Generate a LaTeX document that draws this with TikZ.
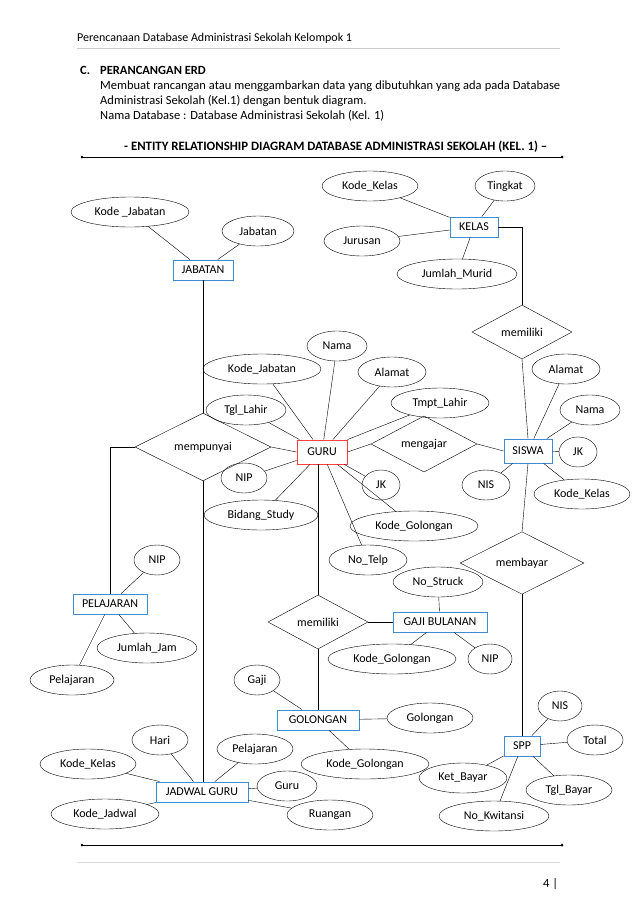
\documentclass[tikz,border=0pt]{standalone}
\usepackage{fontspec}
\setmainfont{Carlito}
\usetikzlibrary{shapes.geometric}
\begin{document}
\begin{tikzpicture}[x=1pt,y=-1pt,
  every node/.style={font=\fontsize{12}{14}\selectfont},
  ent/.style={draw=cyan!60!blue!80, line width=0.9pt, minimum height=20pt, inner sep=3pt},
  attr/.style={draw, ellipse, minimum height=30pt, inner sep=0pt},
  rel/.style={draw, diamond, inner sep=0pt},
  body/.style={anchor=west, inner sep=0pt, font=\fontsize{12.5}{14}\selectfont}]
\useasboundingbox (0,0) rectangle (638,902);
% header
\node[anchor=west, inner sep=0pt, font=\fontsize{12}{14}\selectfont] (hdr) at (77,38) {Perencanaan Database Administrasi Sekolah Kelompok 1};
\coordinate (h1) at (77,48); \coordinate (h2) at (560,48);
\draw[gray!40] (h1) -- (h2);
\node[body, font=\fontsize{12.5}{14}\selectfont\bfseries] (c) at (80,70) {C.};
\node[body, font=\fontsize{12.5}{14}\selectfont\bfseries] (ct) at (100,70) {PERANCANGAN ERD};
\node[body] (p1) at (100,86) {\makebox[460pt][s]{Membuat rancangan atau menggambarkan data yang dibutuhkan yang ada pada Database}};
\node[body] (p2) at (100,101) {Administrasi Sekolah (Kel.1) dengan bentuk diagram.};
\node[body] (p3) at (100,116) {Nama Database : Database Administrasi Sekolah (Kel. 1)};
\node[body, font=\fontsize{12.8}{14}\selectfont\bfseries] (title) at (124,147) {- ENTITY RELATIONSHIP DIAGRAM DATABASE ADMINISTRASI SEKOLAH (KEL. 1) –};
\coordinate (t1) at (82,157); \coordinate (t2) at (562,157);
\draw (t1) -- (t2); \fill (t1) circle (1.5); \fill (t2) circle (1.5);
\coordinate (b1) at (82,845); \coordinate (b2) at (562,845);
\draw (b1) -- (b2); \fill (b1) circle (1.5); \fill (b2) circle (1.5);
\coordinate (f1) at (77,862); \coordinate (f2) at (560,862);
\draw[gray!30] (f1) -- (f2);
\node[body] (pg) at (543,884) {4 |};

% entities
\node[ent, minimum width=48pt] (kelas) at (474,227) {KELAS};
\node[ent, minimum width=60pt] (jab) at (203,270) {JABATAN};
\node[ent, draw=red!75, minimum width=50pt, minimum height=24pt] (guru) at (322,452) {GURU};
\node[ent, minimum width=48pt, minimum height=24pt] (siswa) at (528,451) {SISWA};
\node[ent, minimum width=74pt] (pel) at (110,604) {PELAJARAN};
\node[ent, minimum width=94pt] (gaji) at (440,622) {GAJI BULANAN};
\node[ent, minimum width=82pt] (gol) at (318,720) {GOLONGAN};
\node[ent, minimum width=92pt] (jad) at (202,792) {JADWAL GURU};
\node[ent, minimum width=36pt] (spp) at (522,746) {SPP};

% relationships
\node[rel, minimum width=100pt, minimum height=54pt] (mem1) at (522,332) {memiliki};
\node[rel, minimum width=136pt, minimum height=54pt] (mpy) at (203,447) {mempunyai};
\node[rel, minimum width=106pt, minimum height=54pt] (mgj) at (424,444) {mengajar};
\node[rel, minimum width=124pt, minimum height=54pt] (mby) at (522,563) {membayar};
\node[rel, minimum width=100pt, minimum height=54pt] (mem2) at (318,622) {memiliki};

% attributes
\node[attr, minimum width=96pt] (a1) at (370,186) {Kode\_Kelas};
\node[attr, minimum width=60pt] (a2) at (505,186) {Tingkat};
\node[attr, minimum width=76pt] (a3) at (362,241) {Jurusan};
\node[attr, minimum width=120pt] (a4) at (457,274) {Jumlah\_Murid};
\node[attr, minimum width=118pt] (a5) at (130,212) {Kode \_Jabatan};
\node[attr, minimum width=72pt] (a6) at (258,231) {Jabatan};
\node[attr, minimum width=60pt] (g1) at (337,346) {Nama};
\node[attr, minimum width=118pt] (g2) at (262,369) {Kode\_Jabatan};
\node[attr, minimum width=68pt] (g3) at (392,372) {Alamat};
\node[attr, minimum width=98pt] (g4) at (440,403) {Tmpt\_Lahir};
\node[attr, minimum width=80pt] (g5) at (246,410) {Tgl\_Lahir};
\node[attr, minimum width=46pt] (g6) at (244,478) {NIP};
\node[attr, minimum width=38pt] (g7) at (381,485) {JK};
\node[attr, minimum width=114pt] (g8) at (261,515) {Bidang\_Study};
\node[attr, minimum width=128pt] (g9) at (414,526) {Kode\_Golongan};
\node[attr, minimum width=78pt] (g10) at (368,560) {No\_Telp};
\node[attr, minimum width=48pt] (s1) at (486,485) {NIS};
\node[attr, minimum width=68pt] (s2) at (566,369) {Alamat};
\node[attr, minimum width=60pt] (s3) at (590,410) {Nama};
\node[attr, minimum width=38pt] (s4) at (578,452) {JK};
\node[attr, minimum width=96pt] (s5) at (582,494) {Kode\_Kelas};
\node[attr, minimum width=46pt] (p1a) at (157,560) {NIP};
\node[attr, minimum width=100pt] (p2a) at (147,648) {Jumlah\_Jam};
\node[attr, minimum width=84pt] (p3a) at (72,680) {Pelajaran};
\node[attr, minimum width=90pt] (gb1) at (438,582) {No\_Struck};
\node[attr, minimum width=128pt] (gb2) at (392,659) {Kode\_Golongan};
\node[attr, minimum width=44pt] (gb3) at (490,659) {NIP};
\node[attr, minimum width=46pt] (go1) at (257,680) {Gaji};
\node[attr, minimum width=86pt] (go2) at (430,718) {Golongan};
\node[attr, minimum width=128pt] (go3) at (365,764) {Kode\_Golongan};
\node[attr, minimum width=56pt] (j1) at (160,740) {Hari};
\node[attr, minimum width=76pt] (j2) at (255,749) {Pelajaran};
\node[attr, minimum width=96pt] (j3) at (88,764) {Kode\_Kelas};
\node[attr, minimum width=60pt] (j4) at (287,786) {Guru};
\node[attr, minimum width=108pt] (j5) at (105,814) {Kode\_Jadwal};
\node[attr, minimum width=86pt] (j6) at (330,815) {Ruangan};
\node[attr, minimum width=44pt] (sp1) at (560,706) {NIS};
\node[attr, minimum width=56pt] (sp2) at (595,740) {Total};
\node[attr, minimum width=88pt] (sp3) at (463,778) {Ket\_Bayar};
\node[attr, minimum width=86pt] (sp4) at (569,790) {Tgl\_Bayar};
\node[attr, minimum width=110pt] (sp5) at (494,816) {No\_Kwitansi};

% relationship lines
\draw (kelas.east) -| (mem1.north);
\draw (mem1.south) -- (siswa.north);
\draw (siswa.south) -- (mby.north);
\draw (mby.south) -- (spp.north);
\draw (jab.south) -- (mpy.north);
\draw (mpy.south) -- (jad.north -| mpy.south);
\draw (mpy.east) -- (guru.west);
\draw (mpy.west) -| (pel.north);
\draw (guru.east) -- (mgj.west);
\draw (mgj.east) -- (siswa.west);
\draw (guru.south -| mem2.north) -- (mem2.north);
\draw (mem2.east) -- (gaji.west);
\draw (mem2.south) -- (gol.north -| mem2.south);

% attribute lines
\foreach \a/\e in {a1/kelas,a2/kelas,a3/kelas,a4/kelas,a5/jab,a6/jab,
  g1/guru,g2/guru,g3/guru,g5/guru,g6/guru,g7/guru,g8/guru,g9/guru,g10/guru,
  s1/siswa,s2/siswa,s3/siswa,s4/siswa,s5/siswa,p1a/pel,p2a/pel,p3a/pel,
  gb1/gaji,gb2/gaji,gb3/gaji,go1/gol,go2/gol,go3/gol,
  j1/jad,j2/jad,j3/jad,j4/jad,j5/jad,j6/jad,
  sp1/spp,sp2/spp,sp3/spp,sp4/spp,sp5/spp}
  \draw (\a) -- (\e);
\draw (g4) -- (guru.north east);
\end{tikzpicture}
\end{document}
